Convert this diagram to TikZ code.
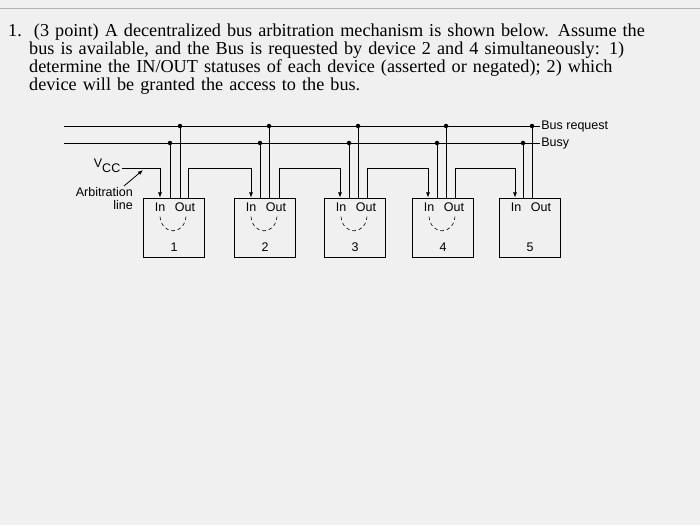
\documentclass[tikz,border=0pt]{standalone}
\usepackage{fontspec}
\setmainfont{Liberation Serif}
\setsansfont{Liberation Sans}
\usetikzlibrary{arrows.meta,positioning}
\tikzstyle{line} = [thick]
\tikzstyle{line>} = [line,-{Latex[length=1.8mm, width=1.4mm]}]
\tikzstyle{small text} = [font=\sffamily\fontsize{12.5}{13}\selectfont]
\tikzstyle{dev node} = [draw, thick, minimum width=61pt, minimum height=59pt, inner sep=0pt]
\tikzstyle{tap} = [circle, fill, inner sep=0pt, minimum size=4.5pt]
\begin{document}
\begin{tikzpicture}[x=1pt,y=-1pt]
        \useasboundingbox[fill=gray!12] (0,0) rectangle (700,525);
        \draw[gray!60, thick] (0,8) -- (700,8);
        \node[anchor=north west, align=left, text width=690pt, font=\fontsize{18.2}{17.8}\selectfont, inner sep=0pt] (question) at (8,24)
          {1.\ \ (3 point) A decentralized bus arbitration mechanism is shown below. Assume the\\
          \hspace*{21pt}bus is available, and the Bus is requested by device 2 and 4 simultaneously: 1)\\
          \hspace*{21pt}determine the IN/OUT statuses of each device (asserted or negated); 2) which\\
          \hspace*{21pt}device will be granted the access to the bus.};
        % bus lines
        \coordinate (req-l) at (64,126);
        \coordinate (req-r) at (540,126);
        \coordinate (busy-l) at (64,143);
        \coordinate (busy-r) at (540,143);
        \draw[line] (req-l) -- (req-r) node[right, inner sep=1pt, small text] (req-label) {Bus request};
        \draw[line] (busy-l) -- (busy-r) node[right, inner sep=1pt, small text] (busy-label) {Busy};
        % devices
        \foreach \n/\x/\lbl in {1/174/1,2/265/2,3/355/3,4/443/4,5/530/5} {
          \node[dev node] (dev\n) at (\x,227.5) {};
          \node[small text] (dev\n-in) at ([xshift=-14pt,yshift=-10pt]dev\n.north) {In};
          \node[small text] (dev\n-out) at ([xshift=11pt,yshift=-10pt]dev\n.north) {Out};
          \node[small text] (dev\n-num) at ([yshift=10pt]dev\n.south) {\lbl};
        }
        \foreach \n in {1,2,3,4} {
          \draw[semithick, dash pattern=on 3.5pt off 3pt] ([xshift=-14pt,yshift=-19pt]dev\n.north) .. controls ([xshift=-12pt,yshift=-38pt]dev\n.north) and ([xshift=10pt,yshift=-38pt]dev\n.north) .. ([xshift=12pt,yshift=-19pt]dev\n.north);
        }
        % taps on busy and bus request
        \foreach \n/\b/\r in {1/170/180,2/260/269,3/349/358,4/437/446,5/523/532} {
          \coordinate (busy\n) at (\b,143);
          \coordinate (req\n) at (\r,126);
          \node[tap] at (busy\n) {};
          \node[tap] at (req\n) {};
          \draw[line] (busy\n) -- (busy\n |- dev\n.north);
          \draw[line] (req\n) -- (req\n |- dev\n.north);
        }
        % arbitration chain
        \coordinate (vcc) at (122,168);
        \node[small text, anchor=east, inner sep=1pt] (vcc-label) at ([yshift=2pt]vcc) {V$_{\textsf{CC}}$};
        \draw[line>] (vcc) -| ([xshift=-14pt]dev1.north);
        \foreach \a/\b/\xa/\xb in {1/2/188/251,2/3/279/340,3/4/367/428,4/5/455/515} {
          \coordinate (out\a) at (\xa,168);
          \coordinate (in\b) at (\xb,168);
          \draw[line>] (out\a |- dev\a.north) -- (out\a) -- (in\b) -- (in\b |- dev\b.north);
        }
        \node[small text, align=right, inner sep=0pt, anchor=north east] (arb-label) at (133,187) {Arbitration\\line};
        \coordinate (arb-tip) at (143,170);
        \draw[line>] (124,186) -- (arb-tip);
\end{tikzpicture}
\end{document}
